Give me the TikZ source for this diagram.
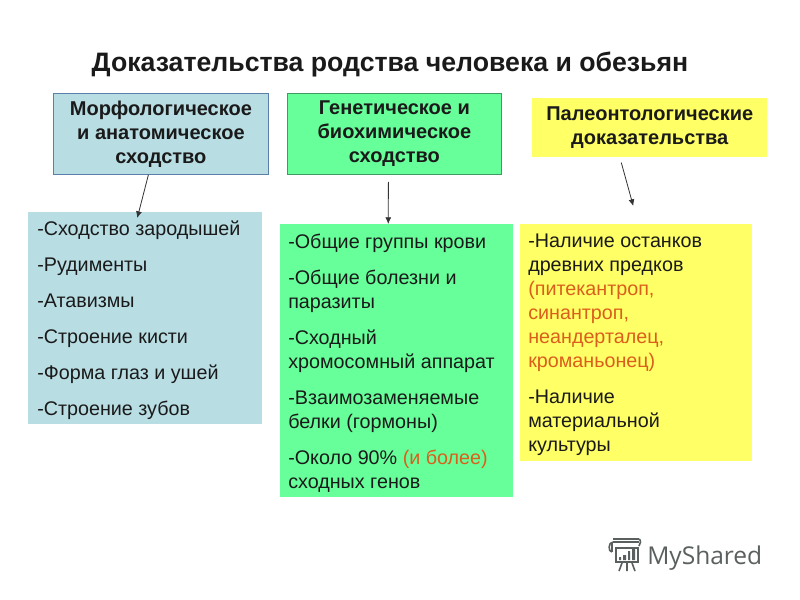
\documentclass[tikz,border=0pt]{standalone}
\usepackage{fontspec}
\setmainfont{Liberation Sans}
\newfontfamily\logofont{Open Sans}
\usetikzlibrary{arrows.meta,calc}
\definecolor{bluefill}{HTML}{B8DDE3}
\definecolor{greenfill}{HTML}{66FF99}
\definecolor{yellowfill}{HTML}{FFFF66}
\definecolor{blueedge}{HTML}{5A7FA8}
\definecolor{greenedge}{HTML}{3F9A63}
\definecolor{inktext}{HTML}{1A1A1A}
\definecolor{redtext}{HTML}{DB5F1C}
\definecolor{logogray}{HTML}{5A5F5F}
\tikzset{
  x=0.75pt,y=-0.75pt,
  headbox/.style={draw=#1,line width=0.6pt,inner sep=0pt,anchor=north west},
  flatbox/.style={inner sep=0pt,anchor=north west},
  headtext/.style={font=\fontsize{15}{18}\selectfont\bfseries,align=center,text=inktext},
  bodytext/.style={font=\fontsize{14.8}{18}\selectfont,align=left,anchor=north west,inner sep=0pt,text=inktext},
  link/.style={draw=black!80,line width=0.6pt,-{Latex[length=5pt,width=4.5pt]}},
  logoline/.style={draw=logogray,line width=1.2pt}
}
\newcommand{\rd}[1]{\textcolor{redtext}{#1}}
\begin{document}
\begin{tikzpicture}
\useasboundingbox (0,0) rectangle (800,600);
\fill[white] (0,0) rectangle (800,600);
\node[font=\fontsize{20}{24}\selectfont\bfseries,text=inktext,inner sep=0pt] (title) at (390,64.5) {Доказательства родства человека и обезьян};

\node[headbox=blueedge,fill=bluefill,minimum width=215*0.75pt,minimum height=81*0.75pt,headtext] (h1) at (53,93) {Морфологическое\\и анатомическое\\сходство};
\node[headbox=greenedge,fill=greenfill,minimum width=214*0.75pt,minimum height=81*0.75pt,headtext] (h2) at (287,93) {Генетическое и\\биохимическое\\сходство};
\node[flatbox,fill=yellowfill,minimum width=235*0.75pt,minimum height=59*0.75pt,headtext] (h3) at (532,98) {Палеонтологические\\доказательства};

\node[flatbox,fill=bluefill,minimum width=234*0.75pt,minimum height=212*0.75pt] (b1) at (28,212) {};
\node[flatbox,fill=greenfill,minimum width=233*0.75pt,minimum height=273*0.75pt] (b2) at (280,224) {};
\node[flatbox,fill=yellowfill,minimum width=232*0.75pt,minimum height=237*0.75pt] (b3) at (520,224) {};

\node[bodytext] (t1) at (37,220.5) {-Сходство зародышей\\[9pt]-Рудименты\\[9pt]-Атавизмы\\[9pt]-Строение кисти\\[9pt]-Форма глаз и ушей\\[9pt]-Строение зубов};
\node[bodytext] (t2) at (288,234) {-Общие группы крови\\[9pt]-Общие болезни и\\паразиты\\[9pt]-Сходный\\хромосомный аппарат\\[9pt]-Взаимозаменяемые\\белки (гормоны)\\[9pt]-Около 90\% \rd{(и более)}\\сходных генов};
\node[bodytext] (t3) at (528,234) {-Наличие останков\\древних предков\\\rd{(питекантроп,}\\\rd{синантроп,}\\\rd{неандерталец,}\\\rd{кроманьонец)}\\[9pt]-Наличие\\материальной\\культуры};

\coordinate (a1s) at ($(h1.south)+(-12.5,0)$);
\coordinate (a1e) at ($(b1.north)+(-8,6)$);
\coordinate (a2s) at ($(h2.south)+(-6,7)$);
\coordinate (a2e) at ($(b2.north)+(-8.5,0)$);
\coordinate (a3s) at ($(h3.south)+(-28.5,5)$);
\coordinate (a3e) at ($(b3.north)+(-3,-18)$);
\draw[link] (a1s) -- (a1e);
\draw[link] (a2s) -- (a2e);
\draw[link] (a3s) -- (a3e);

% logo
\draw[logoline] (613,542) -- (639,542) (616,548) rectangle (638,562);
\draw[logoline] (613,542) .. controls (608,542) and (608,552) .. (612,552);
\draw[logoline] (639,539) .. controls (641,540) and (641,544) .. (639,546);
\draw[logoline] (613,539) -- (639,539);
\draw[logoline] (612,543) -- (612,552);
\fill[logogray] (619,557) rectangle (621,560) (623,555) rectangle (626,560) (628,551) rectangle (630,560) (632,549) rectangle (635,560);
\draw[logoline] (622,563) -- (619,571) (627,563) -- (627,571) (632,563) -- (635,571);
\node[font=\logofont\fontsize{18.4}{24}\selectfont,text=logogray,inner sep=0pt,anchor=base west] (logo) at (647,564) {MyShared};
\end{tikzpicture}
\end{document}
